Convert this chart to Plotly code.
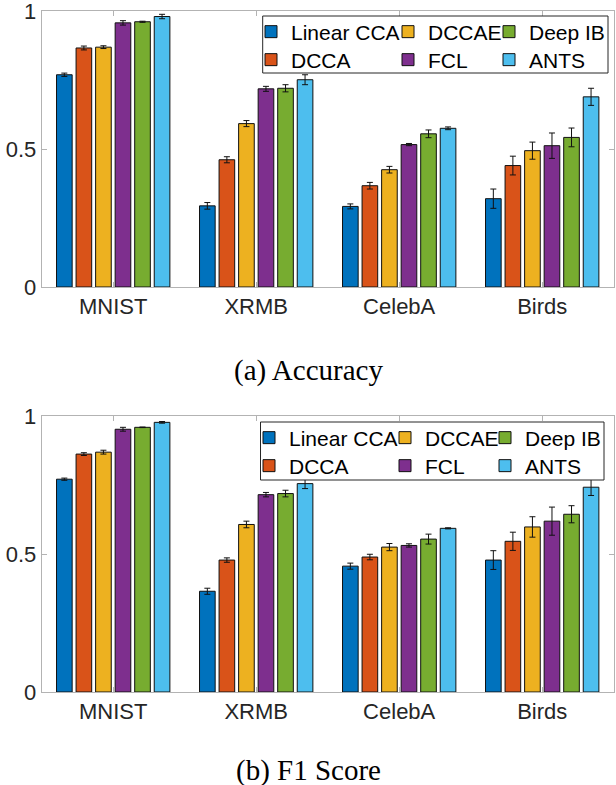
import plotly.graph_objects as go

W, H = 616, 785

datasets = ["MNIST", "XRMB", "CelebA", "Birds"]
methods = ["Linear CCA", "DCCA", "DCCAE", "FCL", "Deep IB", "ANTS"]
colors = ["#0072BD", "#D95319", "#EDB120", "#7E2F8E", "#77AC30", "#4DBEEE"]

# Accuracy (a)
acc_linear_cca = [0.769, 0.294, 0.292, 0.320]
acc_dcca       = [0.866, 0.461, 0.367, 0.440]
acc_dccae      = [0.869, 0.592, 0.425, 0.494]
acc_fcl        = [0.957, 0.718, 0.516, 0.512]
acc_deep_ib    = [0.961, 0.720, 0.555, 0.542]
acc_ants       = [0.980, 0.751, 0.575, 0.689]

acc_err_linear_cca = [0.006, 0.012, 0.009, 0.035]
acc_err_dcca       = [0.007, 0.011, 0.012, 0.034]
acc_err_dccae      = [0.005, 0.011, 0.012, 0.031]
acc_err_fcl        = [0.008, 0.009, 0.004, 0.046]
acc_err_deep_ib    = [0.002, 0.013, 0.014, 0.034]
acc_err_ants       = [0.008, 0.018, 0.005, 0.031]

# F1 score (b)
f1_linear_cca = [0.771, 0.365, 0.456, 0.478]
f1_dcca       = [0.862, 0.478, 0.489, 0.546]
f1_dccae      = [0.869, 0.607, 0.525, 0.598]
f1_fcl        = [0.952, 0.715, 0.531, 0.619]
f1_deep_ib    = [0.959, 0.719, 0.554, 0.644]
f1_ants       = [0.977, 0.755, 0.593, 0.742]

f1_err_linear_cca = [0.004, 0.011, 0.011, 0.034]
f1_err_dcca       = [0.005, 0.008, 0.010, 0.033]
f1_err_dccae      = [0.007, 0.012, 0.013, 0.037]
f1_err_fcl        = [0.007, 0.008, 0.006, 0.051]
f1_err_deep_ib    = [0.001, 0.012, 0.018, 0.031]
f1_err_ants       = [0.003, 0.018, 0.002, 0.030]

y_ticks = [0, 0.5, 1]
y_tick_labels = ["0", "0.5", "1"]

acc_values = [acc_linear_cca, acc_dcca, acc_dccae, acc_fcl, acc_deep_ib, acc_ants]
acc_errors = [acc_err_linear_cca, acc_err_dcca, acc_err_dccae, acc_err_fcl, acc_err_deep_ib, acc_err_ants]
f1_values = [f1_linear_cca, f1_dcca, f1_dccae, f1_fcl, f1_deep_ib, f1_ants]
f1_errors = [f1_err_linear_cca, f1_err_dcca, f1_err_dccae, f1_err_fcl, f1_err_deep_ib, f1_err_ants]

# legend grid position of each method (MATLAB column-major, 3 columns x 2 rows)
legend_col = [0, 0, 1, 1, 2, 2]
legend_row = [0, 1, 0, 1, 0, 1]


def px_x(x):
    return x / W


def px_y(y):
    return 1 - y / H


SANS = "Liberation Sans, Arial, Helvetica, sans-serif"
SERIF = "Liberation Serif, Times New Roman, serif"
FRAME = "#b3b3b3"
TXT = "#262626"

fig = go.Figure()

# legend boxes: (x0, y0, x1, y1) in px, text start per column, row centres
boxes = [(262.7, 16, 608, 73), (260.5, 422, 604, 480)]
col_text_x = [[291, 428, 529], [289, 425, 525]]
row_y = [[32, 60], [438, 466]]

panels = [
    dict(values=acc_values, errors=acc_errors, xa="x", ya="y"),
    dict(values=f1_values, errors=f1_errors, xa="x2", ya="y2"),
]

legend_layouts = {}
for b, p in enumerate(panels):
    for i, m in enumerate(methods):
        key = f"legend{2 + b * 6 + i}"
        fig.add_trace(go.Bar(
            x=datasets, y=p["values"][i], name=m,
            marker=dict(color=colors[i], line=dict(color="#111111", width=1)),
            error_y=dict(type="data", array=p["errors"][i], visible=True,
                         color="#111111", thickness=1, width=3),
            xaxis=p["xa"], yaxis=p["ya"],
            legend=key,
        ))
        legend_layouts[key] = dict(
            x=px_x(col_text_x[b][legend_col[i]] - 40),
            y=px_y(row_y[b][legend_row[i]]),
            xanchor="left", yanchor="middle",
            xref="paper", yref="paper", orientation="v",
            bgcolor="rgba(0,0,0,0)", borderwidth=0, itemwidth=30,
            font=dict(family=SANS, size=21, color="#000000"),
        )

xdom = [px_x(41.7), px_x(613.7)]
axis_common = dict(showline=True, linecolor=FRAME, linewidth=1, mirror="ticks",
                   ticks="inside", ticklen=5, tickcolor=FRAME, showgrid=False,
                   zeroline=False, ticklabeloverflow="allow",
                   tickfont=dict(family=SANS, size=22, color=TXT))

fig.update_layout(
    width=W, height=H,
    margin=dict(l=0, r=0, t=0, b=0, autoexpand=False),
    paper_bgcolor="white", plot_bgcolor="white",
    barmode="group", bargap=0.18, bargroupgap=0.2,
    xaxis=dict(domain=xdom, anchor="y", categoryorder="array", categoryarray=datasets,
               range=[-0.5, 3.5], **axis_common),
    yaxis=dict(domain=[px_y(287), px_y(11)], anchor="x", range=[0, 1],
               tickvals=y_ticks, ticktext=y_tick_labels, **axis_common),
    xaxis2=dict(domain=xdom, anchor="y2", categoryorder="array", categoryarray=datasets,
                range=[-0.5, 3.5], **axis_common),
    yaxis2=dict(domain=[px_y(692), px_y(416)], anchor="x2", range=[0, 1],
                tickvals=y_ticks, ticktext=y_tick_labels, **axis_common),
)
fig.update_layout(legend_layouts)

for (x0, y0, x1, y1) in boxes:
    fig.add_shape(type="rect", xref="paper", yref="paper",
                  x0=px_x(x0), x1=px_x(x1), y0=px_y(y0), y1=px_y(y1),
                  line=dict(color="#262626", width=1), fillcolor="white", layer="above")

fig.add_annotation(text="(a) Accuracy", xref="paper", yref="paper",
                   x=px_x(308), y=px_y(370), xanchor="center", yanchor="middle",
                   showarrow=False, font=dict(family=SERIF, size=29, color="#000000"))
fig.add_annotation(text="(b) F1 Score", xref="paper", yref="paper",
                   x=px_x(308), y=px_y(770), xanchor="center", yanchor="middle",
                   showarrow=False, font=dict(family=SERIF, size=29, color="#000000"))

fig.write_html("out.html", config={"displayModeBar": False},
               post_script="document.body.style.margin='0';document.body.style.overflow='hidden';")
